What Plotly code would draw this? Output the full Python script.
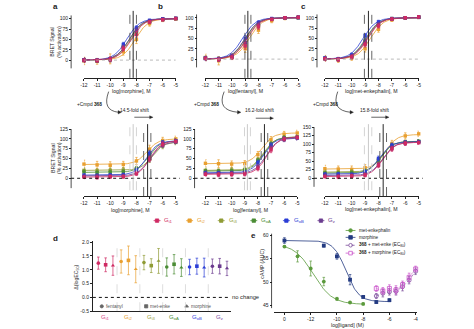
import numpy as np
import plotly.graph_objects as go

W, H = 474, 329
FONT = "Liberation Sans, Arial, sans-serif"
INK = "#222222"


def px(x):
    return x / W


def py(y):
    return 1 - y / H


# ---------------- data ----------------
conc = [-12, -11, -10, -9, -8, -7, -6, -5]
conc_labels = ["-12", "-11", "-10", "-9", "-8", "-7", "-6", "-5"]
proteins = ["Gi1", "Gi2", "Gi3", "GoA", "GoB", "Gz"]
protein_text = ["G<sub>i1</sub>", "G<sub>i2</sub>", "G<sub>i3</sub>",
                "G<sub>oA</sub>", "G<sub>oB</sub>", "G<sub>z</sub>"]
protein_colors = ["#cf2a63", "#e9a030", "#8f9b35", "#4a8c34", "#2b3ed6", "#6b3b8f"]
draw_order = [1, 2, 3, 4, 5, 0]

# top row: agonist alone (% activation)
morphine_vals = [
    [0, -1, 2, 28, 62, 92, 98, 100],
    [-2, -3, 3, 20, 50, 88, 97, 101],
    [1, 0, 1, 30, 66, 93, 99, 100],
    [0, -2, 2, 33, 70, 94, 99, 100],
    [1, 0, 3, 38, 78, 96, 100, 101],
    [-1, -1, 1, 30, 72, 93, 98, 101],
]
morphine_errs = [
    [5, 4, 6, 6, 7, 4, 3, 3],
    [9, 7, 12, 8, 10, 6, 4, 3],
    [5, 4, 5, 6, 6, 4, 3, 2],
    [4, 3, 4, 5, 6, 3, 2, 2],
    [4, 3, 4, 5, 5, 3, 2, 2],
    [5, 4, 5, 6, 6, 4, 3, 3],
]
morphine_logec50 = [-8.4, -8.1, -8.45, -8.55, -8.75, -8.55]

fentanyl_vals = [
    [2, -1, 4, 32, 78, 96, 100, 101],
    [4, -4, 6, 25, 70, 93, 99, 100],
    [3, 0, 5, 35, 80, 97, 100, 100],
    [2, 0, 6, 40, 82, 97, 100, 101],
    [3, 1, 8, 50, 88, 98, 100, 100],
    [1, -1, 5, 40, 84, 97, 100, 102],
]
fentanyl_errs = [
    [5, 4, 5, 8, 6, 3, 3, 3],
    [8, 10, 7, 9, 8, 5, 4, 4],
    [5, 5, 5, 7, 6, 3, 3, 2],
    [4, 4, 4, 6, 5, 3, 2, 2],
    [4, 4, 4, 7, 5, 3, 2, 2],
    [5, 4, 5, 8, 6, 3, 3, 3],
]
fentanyl_logec50 = [-8.85, -8.7, -8.9, -9.0, -9.2, -9.0]

metenk_vals = [
    [1, -1, 5, 35, 80, 97, 100, 102],
    [2, -2, 3, 25, 72, 95, 99, 101],
    [2, 0, 6, 38, 82, 97, 100, 101],
    [1, 0, 8, 45, 85, 98, 100, 101],
    [3, 1, 10, 57, 90, 98, 100, 101],
    [1, -1, 6, 42, 84, 97, 100, 102],
]
metenk_errs = [
    [5, 4, 5, 6, 5, 3, 3, 3],
    [7, 6, 6, 8, 7, 4, 3, 3],
    [5, 4, 5, 6, 5, 3, 2, 2],
    [4, 4, 5, 6, 4, 3, 2, 2],
    [4, 3, 5, 5, 4, 2, 2, 2],
    [5, 4, 5, 6, 5, 3, 3, 3],
]
metenk_logec50 = [-8.8, -8.6, -8.85, -8.95, -9.15, -8.9]
alone_bottom = [0, 0, 0, 0, 0, 0]
alone_top = [100, 100, 100, 100, 100, 100]

# bottom row: agonist + Cmpd 368
morphine368_vals = [
    [3, 2, 4, 4, 12, 49, 87, 94],
    [36, 34, 33, 35, 44, 74, 96, 100],
    [20, 19, 20, 21, 24, 48, 82, 91],
    [16, 14, 15, 16, 24, 60, 89, 95],
    [8, 7, 8, 9, 21, 64, 91, 95],
    [5, 6, 5, 6, 14, 50, 84, 92],
]
morphine368_errs = [
    [4, 4, 4, 4, 5, 7, 6, 5],
    [10, 9, 9, 8, 9, 10, 8, 7],
    [6, 5, 6, 6, 6, 8, 7, 6],
    [5, 5, 5, 5, 6, 7, 6, 5],
    [4, 4, 4, 4, 5, 7, 5, 5],
    [4, 4, 4, 4, 5, 7, 6, 5],
]
morphine368_bottom = [3, 35, 20, 15, 8, 6]
morphine368_top = [95, 100, 92, 95, 95, 92]
morphine368_logec50 = [-7.0, -7.2, -6.8, -7.1, -7.25, -7.0]

fentanyl368_vals = [
    [10, 9, 10, 11, 25, 72, 100, 104],
    [38, 37, 36, 37, 60, 98, 112, 115],
    [20, 19, 21, 22, 47, 88, 102, 104],
    [18, 17, 18, 20, 44, 86, 103, 105],
    [14, 14, 13, 14, 40, 84, 100, 103],
    [12, 11, 12, 13, 30, 77, 98, 102],
]
fentanyl368_errs = [
    [5, 5, 5, 5, 6, 7, 5, 5],
    [9, 10, 8, 8, 8, 8, 7, 7],
    [6, 5, 6, 6, 6, 6, 5, 5],
    [5, 5, 5, 5, 6, 6, 5, 5],
    [5, 4, 5, 5, 6, 6, 5, 5],
    [5, 5, 5, 5, 6, 7, 5, 5],
]
fentanyl368_bottom = [10, 37, 20, 18, 14, 12]
fentanyl368_top = [105, 115, 104, 105, 103, 102]
fentanyl368_logec50 = [-7.3, -7.7, -7.65, -7.6, -7.6, -7.4]

metenk368_vals = [
    [5, 4, 6, 9, 38, 86, 102, 104],
    [28, 27, 26, 31, 50, 102, 124, 130],
    [18, 17, 19, 22, 52, 93, 106, 108],
    [15, 14, 16, 20, 54, 96, 106, 108],
    [12, 12, 11, 19, 58, 97, 105, 107],
    [8, 7, 8, 12, 40, 88, 103, 106],
]
metenk368_errs = [
    [5, 5, 5, 5, 7, 7, 6, 5],
    [10, 9, 10, 9, 10, 9, 9, 8],
    [6, 6, 6, 6, 7, 6, 5, 5],
    [5, 5, 5, 6, 7, 6, 5, 5],
    [5, 5, 5, 6, 7, 6, 5, 5],
    [5, 5, 5, 5, 7, 7, 6, 5],
]
metenk368_bottom = [5, 27, 18, 15, 12, 8]
metenk368_top = [105, 128, 108, 108, 107, 106]
metenk368_logec50 = [-7.7, -7.5, -7.8, -7.85, -7.95, -7.7]

# mean logEC50 +/- SD lines (lo, mean, hi)
lines_morphine = [-8.5, -8.25, -8.0]
lines_fentanyl = [-9.02, -8.8, -8.57]
lines_metenk = [-9.05, -8.75, -8.5]
lines_morphine368 = [-7.45, -7.15, -6.9]
lines_fentanyl368 = [-7.75, -7.5, -7.25]
lines_metenk368 = [-7.9, -7.65, -7.4]
fold_shift_text = ["14.5-fold shift", "16.2-fold shift", "15.8-fold shift"]

# panel d: delta logEC50
d_fentanyl = [1.24, 1.30, 1.26, 1.10, 1.10, 1.13]
d_fentanyl_err = [0.22, 0.42, 0.26, 0.33, 0.28, 0.26]
d_metenke = [1.18, 1.34, 1.15, 1.20, 1.13, 1.13]
d_metenke_err = [0.25, 0.52, 0.25, 0.35, 0.29, 0.28]
d_morphine = [1.15, 1.02, 1.32, 1.08, 1.08, 1.05]
d_morphine_err = [0.35, 0.49, 0.45, 0.32, 0.34, 0.26]
d_label_colors = ["#d6478a", "#e9a030", "#9aa040", "#4a8c34", "#3040e0", "#7a4aa0"]

# panel e: cAMP
e_tickvals = [-14, -12, -10, -8, -6, -4]
e_ticktext = ["0", "-12", "-10", "-8", "-6", "-4"]
e_metenk_x = [-14, -13, -12, -11, -10, -9, -8]
e_metenk_y = [57.6, 55.5, 52.9, 50.1, 46.4, 45.6, 45.3]
e_metenk_err = [0.2, 1.2, 1.6, 0.9, 0.3, 0.2, 0.2]
e_morph_x = [-14, -11, -10, -9, -8, -7, -6]
e_morph_y = [58.9, 57.8, 55.5, 50.5, 46.8, 45.7, 46.1]
e_morph_err = [0.6, 0.3, 0.6, 1.1, 0.3, 0.3, 0.3]
e_cmp_x = [-7, -6.5, -6, -5.5, -5, -4.5, -4]
e_cmp_metenk_y = [47.0, 47.6, 47.9, 48.0, 49.0, 50.4, 52.3]
e_cmp_metenk_err = [0.5, 0.8, 0.7, 0.8, 0.9, 0.8, 0.7]
e_cmp_morph_y = [48.6, 48.1, 48.6, 48.3, 49.4, 51.0, 52.8]
e_cmp_morph_err = [0.6, 0.7, 0.8, 0.9, 0.8, 0.9, 0.6]
e_metenk_fit = dict(top=58.2, bottom=45.2, ic=-11.8, h=0.6)
e_morph_fit = dict(top=58.9, bottom=45.8, ic=-9.3, h=0.9)


def sig(x, b, t, ec, h=1.0):
    return b + (t - b) / (1 + 10 ** ((ec - x) * h))


def inh(x, top, bottom, ic, h):
    return bottom + (top - bottom) / (1 + 10 ** ((x - ic) * h))


# ---------------- figure ----------------
fig = go.Figure()
layout_axes = {}
shapes = []
annotations = []


def sfx(i):
    return "" if i == 1 else str(i)


def ann(x, y, text, size=5, xanchor="center", color=INK, angle=0, **kw):
    annotations.append(dict(x=px(x), y=py(y), xref="paper", yref="paper", text=text,
                            showarrow=False, xanchor=xanchor, yanchor="middle",
                            textangle=angle, font=dict(size=size, color=color, family=FONT), **kw))


panels = [
    dict(i=1, vals=morphine_vals, errs=morphine_errs, b=alone_bottom, t=alone_top, ec=morphine_logec50, h=0.9,
         x12=81, x5=174, yax=68, xline=77, ytop=9, y0=59, y100=17, ylim=(-20, 108),
         yticks=[0, 25, 50, 75, 100], grey=None, dark=lines_morphine, row="top"),
    dict(i=2, vals=fentanyl_vals, errs=fentanyl_errs, b=alone_bottom, t=alone_top, ec=fentanyl_logec50, h=0.9,
         x12=204, x5=298, yax=195, xline=77, ytop=9, y0=58, y100=16, ylim=(-20, 108),
         yticks=[0, 25, 50, 75, 100], grey=None, dark=lines_fentanyl, row="top"),
    dict(i=3, vals=metenk_vals, errs=metenk_errs, b=alone_bottom, t=alone_top, ec=metenk_logec50, h=0.9,
         x12=325, x5=420, yax=317, xline=77, ytop=9, y0=58, y100=16, ylim=(-20, 108),
         yticks=[0, 25, 50, 75, 100], grey=None, dark=lines_metenk, row="top"),
    dict(i=4, vals=morphine368_vals, errs=morphine368_errs, b=morphine368_bottom, t=morphine368_top,
         ec=morphine368_logec50, h=1.0,
         x12=81, x5=174, yax=68, xline=197, ytop=124, y0=179, y100=139, ylim=(-25, 125),
         yticks=[0, 25, 50, 75, 100, 125], grey=lines_morphine, dark=lines_morphine368, row="bot"),
    dict(i=5, vals=fentanyl368_vals, errs=fentanyl368_errs, b=fentanyl368_bottom, t=fentanyl368_top,
         ec=fentanyl368_logec50, h=1.0,
         x12=204, x5=297, yax=193, xline=197, ytop=124, y0=179, y100=139, ylim=(-25, 125),
         yticks=[0, 25, 50, 75, 100, 125], grey=lines_fentanyl, dark=lines_fentanyl368, row="bot"),
    dict(i=6, vals=metenk368_vals, errs=metenk368_errs, b=metenk368_bottom, t=metenk368_top,
         ec=metenk368_logec50, h=1.0,
         x12=325, x5=420, yax=314, xline=197, ytop=124, y0=179, y100=144.3, ylim=(-25, 150),
         yticks=[0, 25, 50, 75, 100, 125, 150], grey=lines_metenk, dark=lines_metenk368, row="bot"),
]

xs_fit = np.linspace(-12, -5, 200)

for p in panels:
    i = p["i"]
    xn, yn = "x" + sfx(i), "y" + sfx(i)
    scale = (p["y0"] - p["y100"]) / 100.0
    ylo = (p["y0"] - p["xline"]) / scale
    yhi = (p["y0"] - p["ytop"]) / scale
    layout_axes["xaxis" + sfx(i)] = dict(
        domain=[px(p["x12"]), px(p["x5"])], range=[-12, -5], anchor=yn,
        showline=True, linecolor=INK, linewidth=0.8, ticks="outside", ticklen=2, tickwidth=0.7,
        tickcolor=INK, tickvals=conc, ticktext=conc_labels, tickfont=dict(size=5),
        showgrid=False, zeroline=False)
    layout_axes["yaxis" + sfx(i)] = dict(
        domain=[py(p["xline"]), py(p["ytop"])], range=[ylo, yhi], anchor="free",
        position=px(p["yax"]), showline=False, ticks="outside", ticklen=2, tickwidth=0.7,
        tickcolor=INK, tickvals=p["yticks"], ticktext=[str(v) for v in p["yticks"]],
        tickfont=dict(size=5), showgrid=False, zeroline=False)
    # Prism-style detached y axis line
    shapes.append(dict(type="line", xref="paper", yref=yn, x0=px(p["yax"]), x1=px(p["yax"]),
                       y0=p["ylim"][0], y1=p["ylim"][1], line=dict(color=INK, width=0.8)))
    # zero reference line
    if p["row"] == "top":
        shapes.append(dict(type="line", xref=xn, yref=yn, x0=-12, x1=-5, y0=0, y1=0,
                           line=dict(color="#aaaaaa", width=0.8, dash="dot")))
    else:
        shapes.append(dict(type="line", xref="paper", yref=yn, x0=px(p["yax"]), x1=px(p["x5"] + 4),
                           y0=0, y1=0, line=dict(color="#111111", width=1, dash="dot")))
    # EC50 lines
    if p["grey"] is not None:
        for k, v in enumerate(p["grey"]):
            shapes.append(dict(type="line", xref=xn, yref=yn + " domain", x0=v, x1=v, y0=0.08, y1=1,
                               line=dict(color="#c4c4c4" if k == 1 else "#cfcfcf", width=0.9,
                                         dash="solid" if k == 1 else "dash")))
    for k, v in enumerate(p["dark"]):
        shapes.append(dict(type="line", xref=xn, yref=yn + " domain", x0=v, x1=v, y0=0, y1=1,
                           line=dict(color="#111111" if k == 1 else "#555555", width=0.9,
                                     dash="solid" if k == 1 else "dash")))
    for k in draw_order:
        c = protein_colors[k]
        fig.add_trace(go.Scatter(
            x=xs_fit, y=sig(xs_fit, p["b"][k], p["t"][k], p["ec"][k], p["h"]), mode="lines",
            line=dict(color=c, width=0.8), xaxis=xn, yaxis=yn, showlegend=False, hoverinfo="skip"))
        fig.add_trace(go.Scatter(
            x=conc, y=p["vals"][k], mode="markers", cliponaxis=False,
            marker=dict(symbol="square", size=3.4, color=c),
            error_y=dict(type="data", array=p["errs"][k], color=c, thickness=0.7, width=1.2),
            xaxis=xn, yaxis=yn, showlegend=False))

# axis titles / labels for a-c
for (cx, cy, t) in [(129, 90, "log[morphine], M"), (245, 90, "log[fentanyl], M"),
                    (372, 90, "log[met-enkephalin], M"), (128, 211, "log[morphine], M"),
                    (250, 211, "log[fentanyl], M"), (372, 210, "log[met-enkephalin], M")]:
    ann(cx, cy, t, size=5.2)
ann(52, 40, "BRET Signal<br>(% activation)", size=5.2, angle=-90)
ann(53, 158, "BRET Signal<br>(% activation)", size=5.2, angle=-90)
for (x, y, t) in [(52, 5, "a"), (158, 5, "b"), (303, 5, "c"), (52, 240, "d"), (253, 237, "e")]:
    ann(x, y, "<b>" + t + "</b>", size=8)

# +Cmpd 368 annotations with curved arrows and fold-shift arrows
for k, (tx, c0, c1, ctrl, fx, ax0, ax1, ay) in enumerate([
        (72, (106, 91), (116, 112), (99, 110), 132, 132, 150, 117),
        (190, (223, 91), (237, 112), (215, 110), 259, 255, 272, 118),
        (311, (338, 91), (351, 112), (331, 110), 375, 372, 389, 117)]):
    ann(tx, 104, "+Cmpd <b>368</b>", size=4.8, xanchor="left")
    path = "M {} {} Q {} {} {} {}".format(px(c0[0]), py(c0[1]), px(ctrl[0]), py(ctrl[1]),
                                        px(c1[0]), py(c1[1]))
    shapes.append(dict(type="path", xref="paper", yref="paper", path=path,
                       line=dict(color=INK, width=0.7)))
    head = "M {} {} L {} {} L {} {} Z".format(px(c1[0] + 3), py(c1[1]), px(c1[0] - 0.5), py(c1[1] - 1.8),
                                             px(c1[0] - 0.5), py(c1[1] + 1.8))
    shapes.append(dict(type="path", xref="paper", yref="paper", path=head,
                       fillcolor=INK, line=dict(color=INK, width=0.3)))
    ann(fx, 110.5, fold_shift_text[k], size=4.8)
    shapes.append(dict(type="line", xref="paper", yref="paper", x0=px(ax0), x1=px(ax1 - 2),
                       y0=py(ay), y1=py(ay), line=dict(color=INK, width=0.7)))
    shapes.append(dict(type="path", xref="paper", yref="paper",
                       path="M {} {} L {} {} L {} {} Z".format(px(ax1 + 1), py(ay), px(ax1 - 2.5), py(ay - 1.6),
                                                              px(ax1 - 2.5), py(ay + 1.6)),
                       fillcolor=INK, line=dict(color=INK, width=0.3)))

# ---------------- panel d ----------------
d_off = [-0.32, 0.0, 0.32]
d_series = [(d_fentanyl, d_fentanyl_err, "circle"), (d_metenke, d_metenke_err, "square"),
            (d_morphine, d_morphine_err, "triangle-up")]
layout_axes["xaxis7"] = dict(domain=[px(90), px(230)], range=[-0.56, 5.5], anchor="y7",
                             showline=True, linecolor=INK, linewidth=0.8, ticks="",
                             showticklabels=False, showgrid=False, zeroline=False)
layout_axes["yaxis7"] = dict(domain=[py(314), py(243)], range=[-0.5, 2.03], anchor="x7",
                             showline=True, linecolor=INK, linewidth=0.8, ticks="outside", ticklen=2,
                             tickwidth=0.7, tickcolor=INK, tickvals=[-0.5, 0, 0.5, 1.0, 1.5, 2.0],
                             ticktext=["-0.5", "0.0", "0.5", "1.0", "1.5", "2.0"],
                             tickfont=dict(size=5), showgrid=False, zeroline=False)
for s in range(5):
    shapes.append(dict(type="line", xref="x7", yref="y7", x0=s + 0.5, x1=s + 0.5, y0=-0.5, y1=2.0,
                       line=dict(color="#c8c8c8", width=0.6, dash="dash")))
shapes.append(dict(type="line", xref="paper", yref="y7", x0=px(90), x1=px(228), y0=0, y1=0,
                   line=dict(color="#111111", width=1, dash="dot")))
for g in range(6):
    c = protein_colors[g]
    for j, (vals, errs, sym) in enumerate(d_series):
        fig.add_trace(go.Scatter(
            x=[g + d_off[j]], y=[vals[g]], mode="markers", cliponaxis=False,
            marker=dict(symbol=sym, size=3.6, color=c),
            error_y=dict(type="data", array=[errs[g]], color=c, thickness=0.7, width=1.3),
            xaxis="x7", yaxis="y7", showlegend=False))
    annotations.append(dict(x=g, y=py(320), xref="x7", yref="paper", text=protein_text[g],
                            showarrow=False, font=dict(size=6, color=d_label_colors[g], family=FONT),
                            yanchor="middle"))
ann(74, 280, "Δ(logEC<sub>50</sub>)", size=5.2, angle=-90)
ann(229, 300, "no change", size=5.8, xanchor="left")

# ---------------- panel e ----------------
e_scale = 4.733
e_ylo = 60 - (315 - 237) / e_scale
e_yhi = 60 - (235 - 237) / e_scale
layout_axes["xaxis8"] = dict(domain=[px(273), px(418)], range=[-14.83, -3.92], anchor="y8",
                             showline=True, linecolor=INK, linewidth=0.8, ticks="outside", ticklen=2,
                             tickwidth=0.7, tickcolor=INK, tickvals=e_tickvals, ticktext=e_ticktext,
                             tickfont=dict(size=5), showgrid=False, zeroline=False)
layout_axes["yaxis8"] = dict(domain=[py(315), py(235)], range=[e_ylo, e_yhi], anchor="free",
                             position=px(271), showline=False, ticks="outside", ticklen=2, tickwidth=0.7,
                             tickcolor=INK, tickvals=[45, 50, 55, 60], ticktext=["45", "50", "55", "60"],
                             tickfont=dict(size=5), showgrid=False, zeroline=False)
shapes.append(dict(type="line", xref="paper", yref="y8", x0=px(271), x1=px(271), y0=44.4, y1=e_yhi,
                   line=dict(color=INK, width=0.8)))
E_GREEN, E_NAVY, E_PURPLE, E_PINK = "#5b9a3c", "#243b82", "#7a4a9a", "#cc55cc"
xg = np.linspace(-14, -8, 120)
xb = np.linspace(-14, -6, 120)
fig.add_trace(go.Scatter(x=xg, y=inh(xg, **e_metenk_fit), mode="lines", line=dict(color=E_GREEN, width=0.8),
                         xaxis="x8", yaxis="y8", showlegend=False, hoverinfo="skip"))
fig.add_trace(go.Scatter(x=xb, y=inh(xb, **e_morph_fit), mode="lines", line=dict(color=E_NAVY, width=0.8),
                         xaxis="x8", yaxis="y8", showlegend=False, hoverinfo="skip"))
fig.add_trace(go.Scatter(x=e_metenk_x, y=e_metenk_y, mode="markers", cliponaxis=False,
                         marker=dict(symbol="circle", size=3.8, color=E_GREEN),
                         error_y=dict(type="data", array=e_metenk_err, color=E_GREEN, thickness=0.7, width=1.3),
                         xaxis="x8", yaxis="y8", showlegend=False))
fig.add_trace(go.Scatter(x=e_morph_x, y=e_morph_y, mode="markers", cliponaxis=False,
                         marker=dict(symbol="square", size=3.8, color=E_NAVY),
                         error_y=dict(type="data", array=e_morph_err, color=E_NAVY, thickness=0.7, width=1.3),
                         xaxis="x8", yaxis="y8", showlegend=False))
fig.add_trace(go.Scatter(x=e_cmp_x, y=e_cmp_metenk_y, mode="lines+markers", cliponaxis=False,
                         line=dict(color=E_PURPLE, width=0.6, dash="dot"),
                         marker=dict(symbol="circle-open", size=4, color=E_PURPLE, line=dict(width=0.8)),
                         error_y=dict(type="data", array=e_cmp_metenk_err, color=E_PURPLE, thickness=0.7, width=1.3),
                         xaxis="x8", yaxis="y8", showlegend=False))
fig.add_trace(go.Scatter(x=e_cmp_x, y=e_cmp_morph_y, mode="lines+markers", cliponaxis=False,
                         line=dict(color=E_PINK, width=0.6, dash="dot"),
                         marker=dict(symbol="square-open", size=4, color=E_PINK, line=dict(width=0.8)),
                         error_y=dict(type="data", array=e_cmp_morph_err, color=E_PINK, thickness=0.7, width=1.3),
                         xaxis="x8", yaxis="y8", showlegend=False))
ann(261, 266, "cAMP (AUC)", size=5.2, angle=-90)
ann(348, 327.5, "log[ligand] (M)", size=5.2)

# ---------------- legends (overlay axis in pixel units) ----------------
layout_axes["xaxis9"] = dict(domain=[0, 1], range=[0, W], visible=False, anchor="y9", fixedrange=True)
layout_axes["yaxis9"] = dict(domain=[0, 1], range=[H, 0], visible=False, anchor="x9", fixedrange=True)


def leg_item(mx, my, color, sym, text, tcolor=INK, size=5.8, half=4.5, marker_size=3.4, dash="solid",
             line=True):
    if line:
        fig.add_trace(go.Scatter(x=[mx - half, mx + half], y=[my, my], mode="lines",
                                 line=dict(color=color, width=0.8, dash=dash), xaxis="x9", yaxis="y9",
                                 showlegend=False, hoverinfo="skip"))
    fig.add_trace(go.Scatter(x=[mx], y=[my], mode="markers", cliponaxis=False,
                             marker=dict(symbol=sym, size=marker_size, color=color, line=dict(width=0.8, color=color)),
                             xaxis="x9", yaxis="y9", showlegend=False, hoverinfo="skip"))
    annotations.append(dict(x=mx + half + 2, y=my, xref="x9", yref="y9", text=text, showarrow=False,
                            xanchor="left", yanchor="middle", font=dict(size=size, color=tcolor, family=FONT)))


legend_x = [155, 188, 220, 253, 286, 321]
for k in range(6):
    leg_item(legend_x[k], 222, protein_colors[k], "square", protein_text[k], tcolor=protein_colors[k],
             size=6, half=3.5)

for (mx, sym, t) in [(99, "circle", "fentanyl"), (144, "square", "met-enke"), (185, "triangle-up", "morphine")]:
    leg_item(mx, 309, "#666666", sym, t, tcolor="#555555", size=4.8, half=0, marker_size=3.2, line=False)

for (my, color, sym, t, dash) in [(232, E_GREEN, "circle", "met-enkephalin", "solid"),
                                  (239, E_NAVY, "square", "morphine", "solid"),
                                  (247, E_PURPLE, "circle-open", "<b>368</b> + met-enke (EC<sub>80</sub>)", "dot"),
                                  (255, E_PINK, "square-open", "<b>368</b> + morphine (EC<sub>80</sub>)", "dot")]:
    leg_item(351, my, color, sym, t, size=4.6, half=5, marker_size=3.6, dash=dash)

fig.update_layout(width=W, height=H, margin=dict(l=0, r=0, t=0, b=0), paper_bgcolor="white",
                  plot_bgcolor="rgba(0,0,0,0)", showlegend=False,
                  font=dict(family=FONT, size=5, color=INK), shapes=shapes, annotations=annotations,
                  **layout_axes)

fig.write_html("out.html", include_plotlyjs=True, config={"displayModeBar": False})
